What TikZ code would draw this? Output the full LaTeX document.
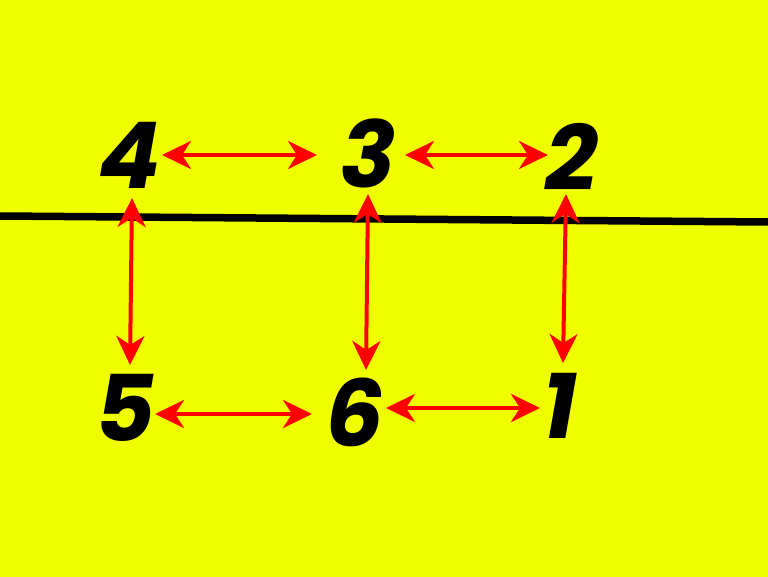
\documentclass[tikz,border=0pt]{standalone}
\usepackage{fontspec}
\setmainfont{Poppins}
\usetikzlibrary{arrows.meta,calc}
\definecolor{bgyellow}{RGB}{240,255,0}
\definecolor{arrred}{RGB}{255,0,0}
\begin{document}
\begin{tikzpicture}[x=1pt,y=-1pt,
  digit/.style={inner sep=0pt,anchor=center,font=\fontsize{92}{92}\selectfont\bfseries\itshape,text=black},
  dbl/.style={draw=arrred,line width=4pt,{Stealth[length=29pt,width=28pt,inset=9pt]}-{Stealth[length=29pt,width=28pt,inset=9pt]}}]
\fill[bgyellow] (0,0) rectangle (768,577);
\useasboundingbox (0,0) rectangle (768,577);
\node[digit] (n4) at (130,155) {4};
\node[digit] (n3) at (368,153) {3};
\node[digit] (n2) at (572,157) {2};
\node[digit] (n5) at (125,408) {5};
\node[digit] (n6) at (355,412) {6};
\node[digit] (n1) at (560,406) {1};
\coordinate (lineL) at (0,216);
\coordinate (lineR) at (768,222);
\draw[line width=7.5pt,black] (lineL) -- (lineR);
\draw[dbl] ($(n4.center)+(32,0)$) -- ($(n3.center)+(-51,2)$);
\draw[dbl] ($(n3.center)+(37,2)$) -- ($(n2.center)+(-24,-2)$);
\draw[dbl] ($(n5.center)+(30,6)$) -- ($(n6.center)+(-43,2)$);
\draw[dbl] ($(n6.center)+(31,-4)$) -- ($(n1.center)+(-20,2)$);
\draw[dbl] ($(n4.center)+(2,43)$) -- ($(n5.center)+(5,-43)$);
\draw[dbl] ($(n3.center)+(0,41)$) -- ($(n6.center)+(11,-42)$);
\draw[dbl] ($(n2.center)+(-6,37)$) -- ($(n1.center)+(3,-43)$);
\end{tikzpicture}
\end{document}
